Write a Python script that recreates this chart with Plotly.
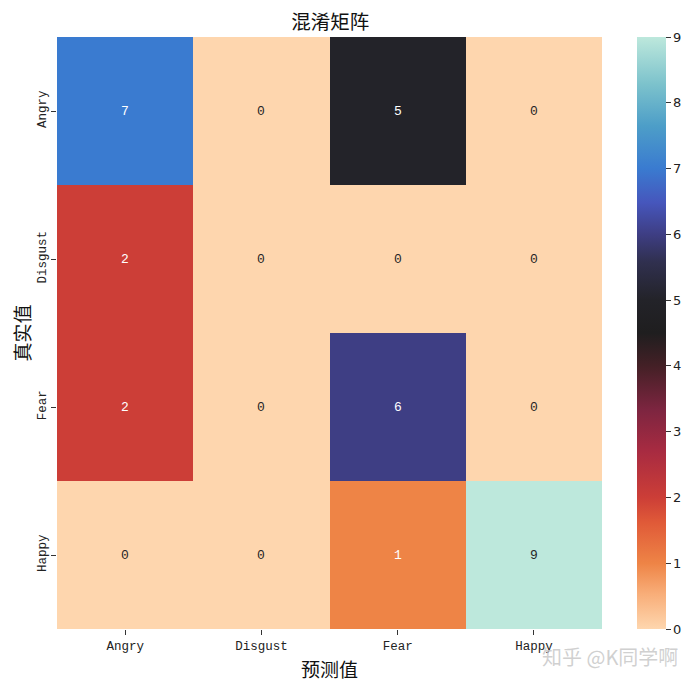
import plotly.graph_objects as go

labels = ["Angry", "Disgust", "Fear", "Happy"]
true_rows = ["Angry", "Disgust", "Fear", "Happy"]
counts = [
    [7, 0, 5, 0],
    [2, 0, 0, 0],
    [2, 0, 6, 0],
    [0, 0, 1, 9],
]
cbar_ticks = [0, 1, 2, 3, 4, 5, 6, 7, 8, 9]

# icefire_r approximation
colorscale = [
    [0.0, "#fed6ae"],
    [0.06, "#f8ad78"],
    [0.111, "#ee8446"],
    [0.18, "#e05a38"],
    [0.222, "#cc3e37"],
    [0.30, "#a82b41"],
    [0.37, "#7d2540"],
    [0.444, "#442026"],
    [0.5, "#1f1e1f"],
    [0.556, "#232329"],
    [0.62, "#30304f"],
    [0.667, "#3e3e84"],
    [0.72, "#4656bc"],
    [0.778, "#3a7bd0"],
    [0.85, "#4d9ec8"],
    [0.92, "#7cc2cc"],
    [1.0, "#bde8dc"],
]

tick_font = dict(family="Liberation Mono", size=12.5, color="#222")
cjk = "Noto Sans CJK SC"

fig = go.Figure(
    go.Heatmap(
        z=counts,
        x=labels,
        y=true_rows,
        zmin=0,
        zmax=9,
        colorscale=colorscale,
        colorbar=dict(
            x=1.064,
            xanchor="left",
            xpad=0,
            ypad=0,
            y=0,
            yanchor="bottom",
            len=1,
            lenmode="fraction",
            thickness=29,
            outlinewidth=0,
            tickvals=cbar_ticks,
            ticks="outside",
            ticklen=5,
            tickcolor="#333",
            tickfont=dict(family="DejaVu Sans", size=13, color="#222"),
        ),
        hoverinfo="skip",
    )
)

for i, row in enumerate(counts):
    for j, v in enumerate(row):
        fig.add_annotation(
            x=labels[j],
            y=true_rows[i],
            text=str(v),
            showarrow=False,
            font=dict(family="Liberation Mono", size=13,
                      color="white" if 1 <= v <= 7 else "#262626"),
        )

fig.add_annotation(
    x=1.015, y=-0.047, xref="paper", yref="paper",
    xanchor="center", yanchor="middle",
    text="知乎 @K同学啊", showarrow=False,
    font=dict(family=cjk, size=20, color="rgba(200,200,200,0.85)"),
)

fig.update_layout(
    width=687,
    height=677,
    margin=dict(l=49, r=93, t=29, b=56, autoexpand=False),
    paper_bgcolor="white",
    plot_bgcolor="white",
    title=dict(text="混淆矩阵", x=0.469, xref="container", xanchor="center",
               y=0.979, yref="container", yanchor="middle",
               font=dict(family=cjk, size=19.5, color="#111")),
    xaxis=dict(
        title=dict(text="预测值", font=dict(family=cjk, size=19, color="#111"), standoff=10),
        ticks="outside", ticklen=5, tickcolor="#333",
        tickfont=tick_font, automargin=False,
        showgrid=False, zeroline=False, showline=False,
    ),
    yaxis=dict(
        title=dict(text="真实值", font=dict(family=cjk, size=19, color="#111"), standoff=1),
        autorange="reversed",
        ticks="outside", ticklen=5, tickcolor="#333", tickangle=-90,
        tickfont=tick_font, automargin=False,
        showgrid=False, zeroline=False, showline=False,
    ),
    font=dict(family=cjk),
)

fig.write_html("out.html")
